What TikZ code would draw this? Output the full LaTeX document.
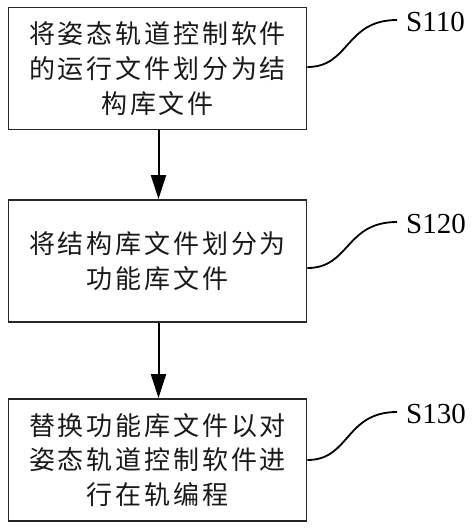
\documentclass[tikz,border=0pt]{standalone}
\usepackage{fontspec}
\newfontfamily\cjk[LetterSpace=11]{Noto Sans CJK SC}
\newfontfamily\lbl{Liberation Serif}
\usetikzlibrary{arrows.meta}
\tikzset{
  stepbox/.style={draw=black!85, line width=1.8pt, minimum width=298pt, minimum height=122pt, inner sep=0pt,
    align=center, font=\cjk\fontsize{26}{34.8}\selectfont, text=black!90},
  steplabel/.style={font=\lbl\fontsize{29}{30}\selectfont, anchor=west, inner sep=0pt, text=black},
  flow/.style={line width=2pt, -{Triangle[length=24pt,width=15pt]}},
  squig/.style={line width=1.8pt}
}
\begin{document}
\begin{tikzpicture}[x=1pt,y=-1pt]
\useasboundingbox (0,0) rectangle (474,531);
\node[stepbox] (b1) at (157.5,68.5) {将姿态轨道控制软件\\的运行文件划分为结\\构库文件};
\node[stepbox] (b2) at (157.5,261) {将结构库文件划分为\\功能库文件};
\node[stepbox] (b3) at (157.5,460) {替换功能库文件以对\\姿态轨道控制软件进\\行在轨编程};
\node[steplabel] (l1) at (406,22) {S110};
\node[steplabel] (l2) at (406,224) {S120};
\node[steplabel] (l3) at (406,414) {S130};
\coordinate (e1) at (397,20);
\coordinate (e2) at (397,222);
\coordinate (e3) at (397,412);
\draw[flow] (b1.south -| 158.5,0) -- (b2.north -| 158.5,0);
\draw[flow] (b2.south -| 158.5,0) -- (b3.north -| 158.5,0);
\draw[squig] (b1.east |- 0,67) .. controls (350,67) and (345,20) .. (e1);
\draw[squig] (b2.east |- 0,268) .. controls (350,268) and (345,222) .. (e2);
\draw[squig] (b3.east |- 0,460) .. controls (350,460) and (345,412) .. (e3);
\end{tikzpicture}
\end{document}
